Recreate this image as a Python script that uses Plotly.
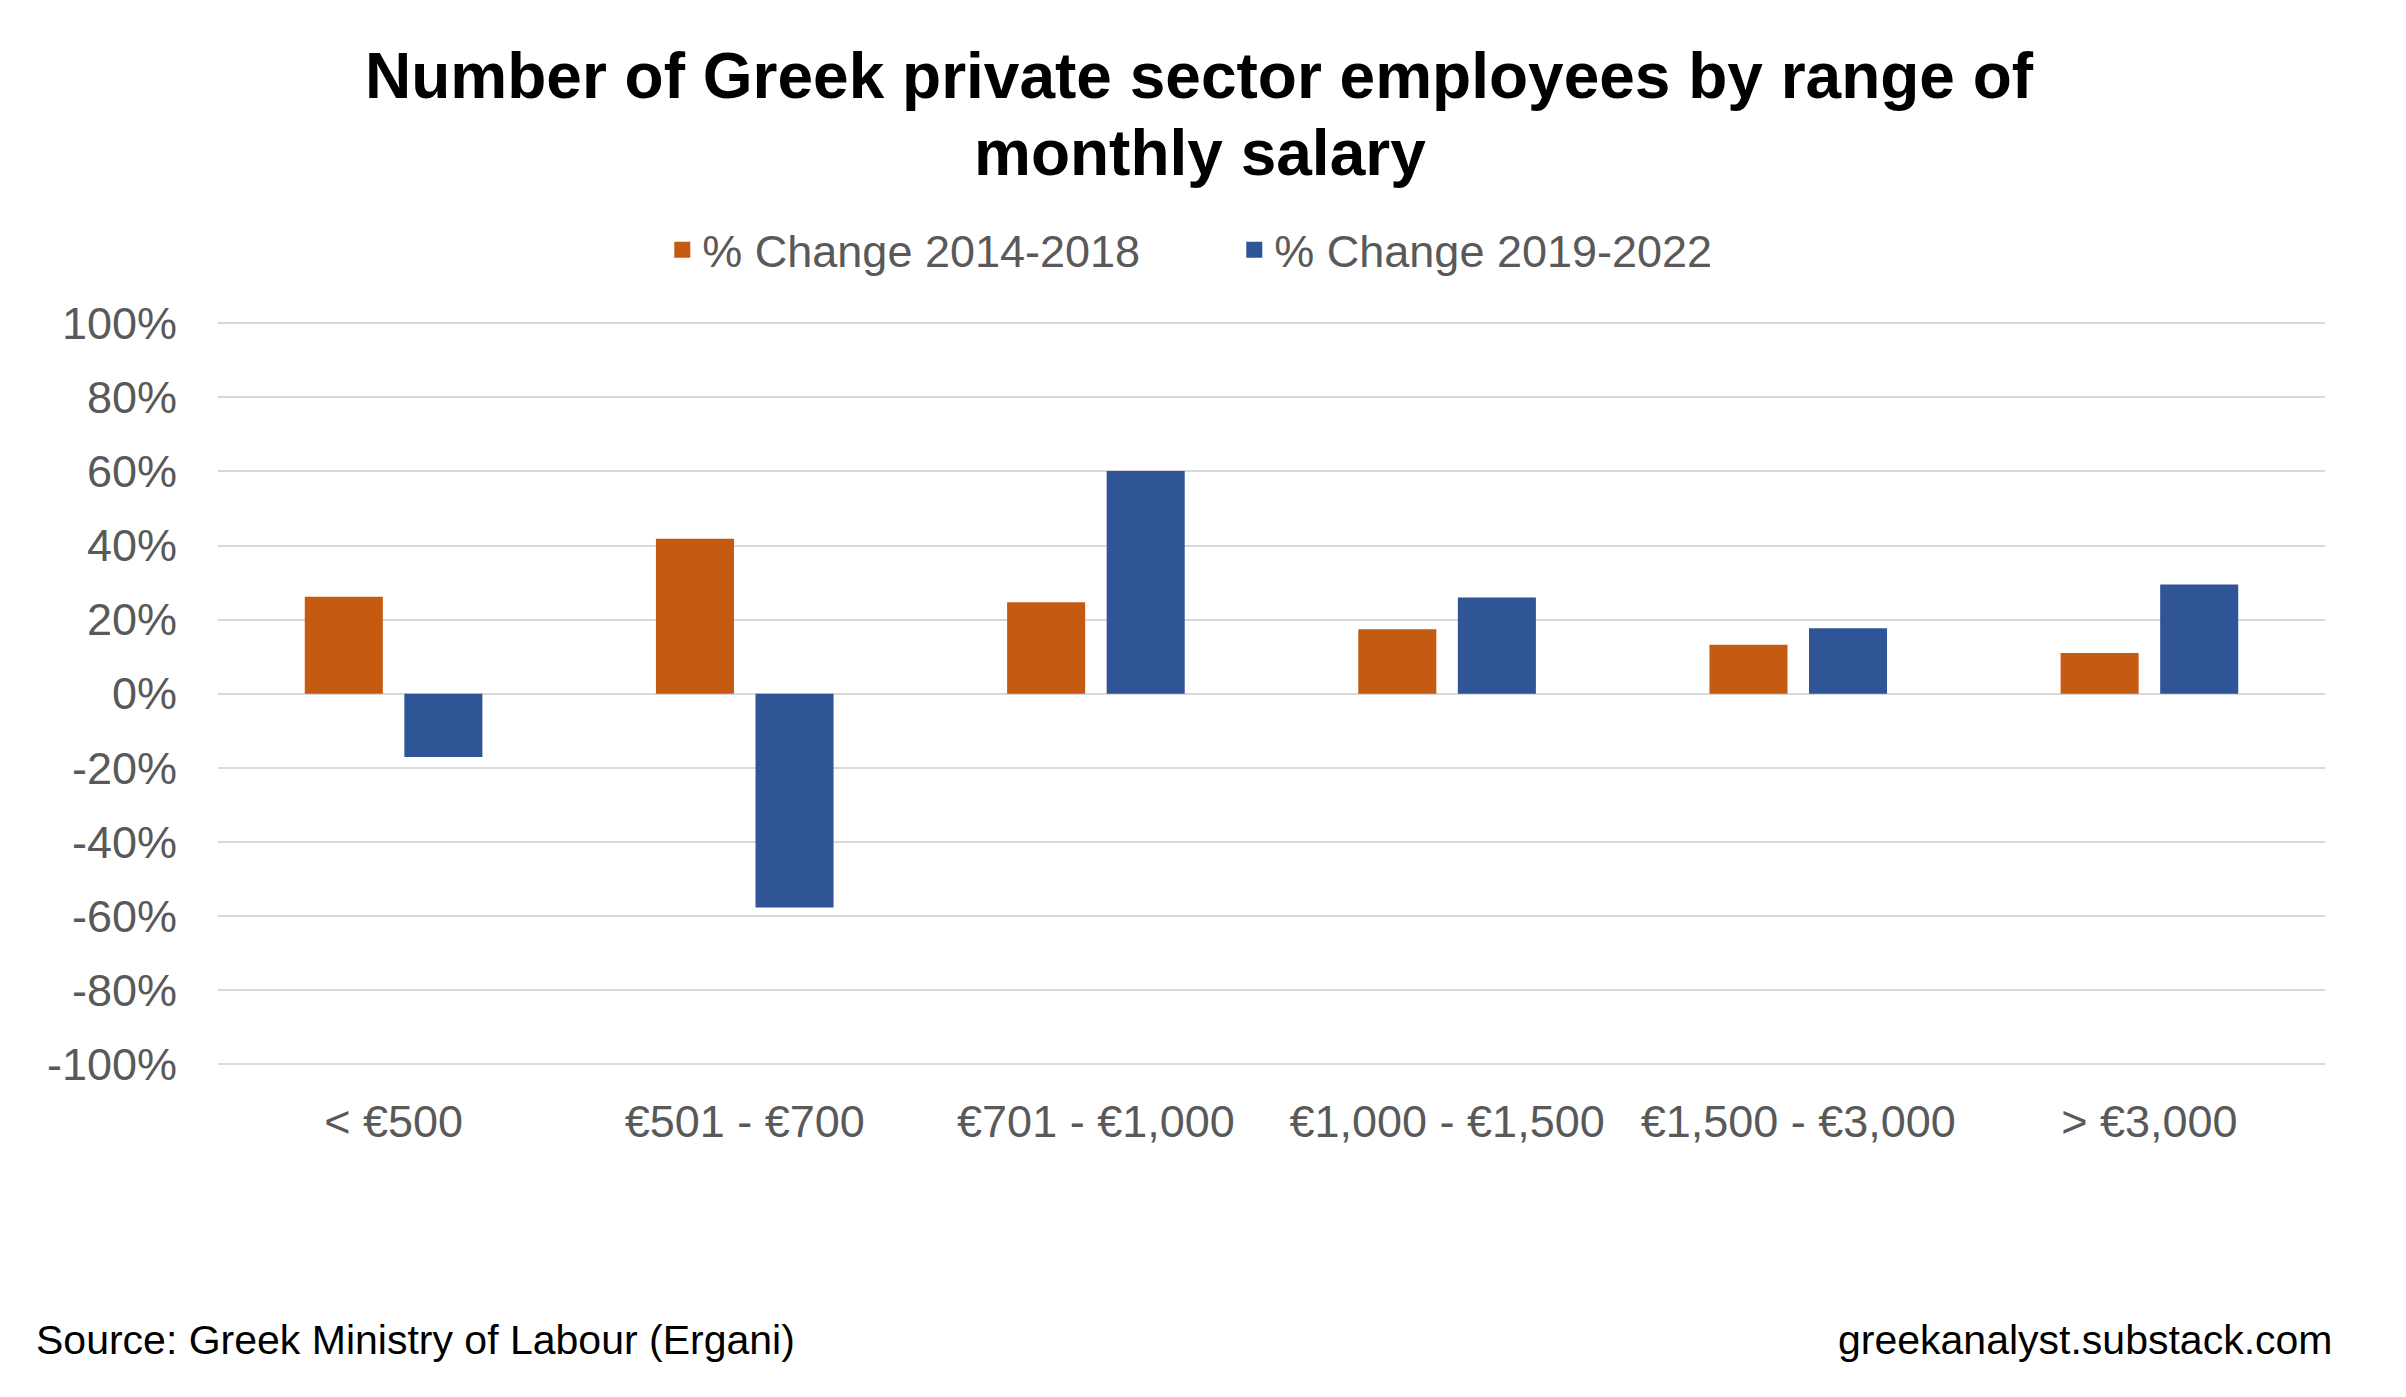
import plotly.graph_objects as go

categories = ["< €500", "€501 - €700", "€701 - €1,000", "€1,000 - €1,500", "€1,500 - €3,000", "> €3,000"]
change_2014_2018 = [26.2, 41.8, 24.7, 17.4, 13.2, 11.0]
change_2019_2022 = [-17.1, -57.7, 60.1, 26.0, 17.7, 29.5]
series_names = ["% Change 2014-2018", "% Change 2019-2022"]
series_colors = ["#C55A11", "#2F5597"]
y_ticks = [-100, -80, -60, -40, -20, 0, 20, 40, 60, 80, 100]
y_tick_labels = [f"{v}%" for v in y_ticks]
title_lines = ["Number of Greek private sector employees by range of", "monthly salary"]

FONT = "Liberation Sans, Arial, sans-serif"
GREY = "#595959"

fig = go.Figure()
for name, vals, col in zip(series_names, [change_2014_2018, change_2019_2022], series_colors):
    fig.add_trace(go.Bar(name=name, x=categories, y=vals, showlegend=False,
                         marker=dict(color=col, line=dict(width=0))))
# legend entries with larger square symbols
for name, col in zip(series_names, series_colors):
    fig.add_trace(go.Scatter(name=name, x=[None], y=[None], mode="markers",
                             marker=dict(symbol="square", size=16, color=col), showlegend=True))

fig.update_layout(
    width=2406, height=1397,
    margin=dict(l=218, r=81, t=317, b=331),
    paper_bgcolor="white", plot_bgcolor="white",
    barmode="group", bargap=0.433, bargroupgap=0.216,
    font=dict(family=FONT, color=GREY, size=45),
    legend=dict(orientation="h", xref="container", yref="container",
                x=0.513, xanchor="center", y=1 - 250/1397, yanchor="middle",
                font=dict(family=FONT, size=45, color=GREY),
                itemwidth=30, itemsizing="trace", entrywidth=527, traceorder="normal"),
    showlegend=True,
)
fig.update_yaxes(range=[-100.5, 100.5], tickvals=y_ticks, ticktext=y_tick_labels,
                 showgrid=True, gridcolor="#D9D9D9", gridwidth=2,
                 zeroline=True, zerolinecolor="#D9D9D9", zerolinewidth=2,
                 ticks="outside", ticklen=31, tickcolor="white", showline=False,
                 tickfont=dict(family=FONT, size=45, color=GREY))
fig.update_xaxes(showgrid=False, showline=False, ticks="outside", ticklen=16, tickcolor="white",
                 tickfont=dict(family=FONT, size=45, color=GREY))

for line, ypos in zip(title_lines, [1.330, 1.2268]):
    fig.add_annotation(text=f"<b>{line}</b>", xref="paper", yref="paper",
                       x=0.466, y=ypos, xanchor="center", yanchor="middle", showarrow=False,
                       font=dict(family=FONT, size=64, color="black"))

fig.add_annotation(text="Source: Greek Ministry of Labour (Ergani)", xref="paper", yref="paper",
                   x=-0.0873, y=-0.368, xanchor="left", yanchor="middle", showarrow=False,
                   font=dict(family=FONT, size=41, color="black"))
fig.add_annotation(text="greekanalyst.substack.com", xref="paper", yref="paper",
                   x=1.0047, y=-0.368, xanchor="right", yanchor="middle", showarrow=False,
                   font=dict(family=FONT, size=41, color="black"))

fig.write_html("out.html")
